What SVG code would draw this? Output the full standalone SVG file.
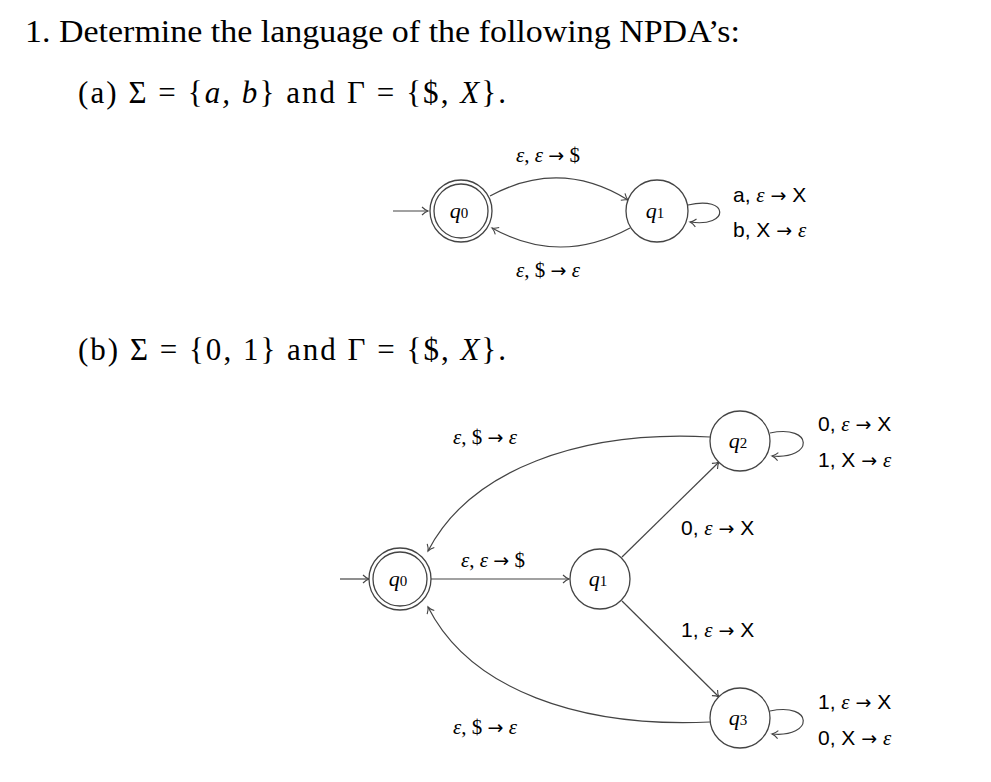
<svg xmlns="http://www.w3.org/2000/svg" width="991" height="782" viewBox="0 0 991 782">
<style>
.h{font-family:"Liberation Serif",serif;font-size:31px;fill:#000}
.st{fill:#fff;stroke:#444;stroke-width:1.3}
.q{font-family:"Liberation Serif",serif;font-style:italic;font-size:22px;text-anchor:middle}
.sub{font-style:normal;font-size:15px}
.e{fill:none;stroke:#444;stroke-width:1.2;marker-end:url(#ah)}
.lb{font-family:"Liberation Serif",serif;font-size:21px;fill:#000}
.sf{font-family:"Liberation Sans",sans-serif;font-size:21px;fill:#000}
.ep{font-family:"Liberation Serif",serif;font-style:italic}
.ar{font-family:"DejaVu Sans",sans-serif;font-size:19px}
.i{font-style:italic}
</style>
<defs><marker id="ah" markerWidth="10" markerHeight="10" refX="8" refY="5" orient="auto" markerUnits="userSpaceOnUse"><path d="M2,1 Q5,4 8,5 Q5,6 2,9" fill="none" stroke="#444" stroke-width="1.1"/></marker></defs>
<rect width="991" height="782" fill="#fff"/>
<text class="h" x="25" y="42" textLength="715" lengthAdjust="spacingAndGlyphs">1. Determine the language of the following NPDA’s:</text>
<text class="h" x="78" y="103" textLength="428" lengthAdjust="spacing">(a) Σ = {<tspan class="i">a, b</tspan>} and Γ = {$, <tspan class="i">X</tspan>}.</text>
<text class="h" x="78" y="360" textLength="428" lengthAdjust="spacing">(b) Σ = {0, 1} and Γ = {$, <tspan class="i">X</tspan>}.</text>
<g id="connectors">
<path class="e" d="M393,211 H428"/>
<path class="e" d="M490,196 Q560,158 628,200"/>
<path class="e" d="M630,228 Q560,266 492,228"/>
<path class="e" d="M688,205 C730,195 730,228 690,222"/>
<path class="e" d="M340,579 H369"/>
<path class="e" d="M431,579 H569"/>
<path class="e" d="M622,557 L719,462"/>
<path class="e" d="M622,601 L719,697"/>
<path class="e" d="M710,437 C580,430 470,470 428,551"/>
<path class="e" d="M710,722 C580,728 470,690 428,607"/>
<path class="e" d="M770,433 C814,424 814,460 772,456"/>
<path class="e" d="M770,711 C814,702 814,738 772,734"/>
</g>
<g id="a_q0"><circle class="st" cx="461" cy="211" r="31"/><circle class="st" cx="461" cy="211" r="27"/><text class="q" x="459" y="218">q<tspan class="sub">0</tspan></text></g>
<g id="a_q1"><circle class="st" cx="657" cy="211" r="31"/><text class="q" x="655" y="218">q<tspan class="sub">1</tspan></text></g>
<g id="b_q0"><circle class="st" cx="400" cy="579" r="31"/><circle class="st" cx="400" cy="579" r="27"/><text class="q" x="398" y="586">q<tspan class="sub">0</tspan></text></g>
<g id="b_q1"><circle class="st" cx="600" cy="579" r="30"/><text class="q" x="598" y="586">q<tspan class="sub">1</tspan></text></g>
<g id="b_q2"><circle class="st" cx="740" cy="441" r="30"/><text class="q" x="738" y="448">q<tspan class="sub">2</tspan></text></g>
<g id="b_q3"><circle class="st" cx="740" cy="718" r="30"/><text class="q" x="738" y="725">q<tspan class="sub">3</tspan></text></g>
<g id="labels">
<text class="lb" x="516" y="162"><tspan class="ep">ε</tspan>, <tspan class="ep">ε</tspan> <tspan class="ar">→</tspan> $</text>
<text class="lb" x="516" y="277"><tspan class="ep">ε</tspan>, $ <tspan class="ar">→</tspan> <tspan class="ep">ε</tspan></text>
<text class="sf" x="733" y="202">a, <tspan class="ep">ε</tspan> <tspan class="ar">→</tspan> X</text>
<text class="sf" x="733" y="237">b, X <tspan class="ar">→</tspan> <tspan class="ep">ε</tspan></text>
<text class="lb" x="453" y="444"><tspan class="ep">ε</tspan>, $ <tspan class="ar">→</tspan> <tspan class="ep">ε</tspan></text>
<text class="lb" x="461" y="567"><tspan class="ep">ε</tspan>, <tspan class="ep">ε</tspan> <tspan class="ar">→</tspan> $</text>
<text class="lb" x="453" y="734"><tspan class="ep">ε</tspan>, $ <tspan class="ar">→</tspan> <tspan class="ep">ε</tspan></text>
<text class="sf" x="681" y="535">0, <tspan class="ep">ε</tspan> <tspan class="ar">→</tspan> X</text>
<text class="sf" x="681" y="637">1, <tspan class="ep">ε</tspan> <tspan class="ar">→</tspan> X</text>
<text class="sf" x="818" y="431">0, <tspan class="ep">ε</tspan> <tspan class="ar">→</tspan> X</text>
<text class="sf" x="818" y="467">1, X <tspan class="ar">→</tspan> <tspan class="ep">ε</tspan></text>
<text class="sf" x="818" y="709">1, <tspan class="ep">ε</tspan> <tspan class="ar">→</tspan> X</text>
<text class="sf" x="818" y="745">0, X <tspan class="ar">→</tspan> <tspan class="ep">ε</tspan></text>
</g>
</svg>
